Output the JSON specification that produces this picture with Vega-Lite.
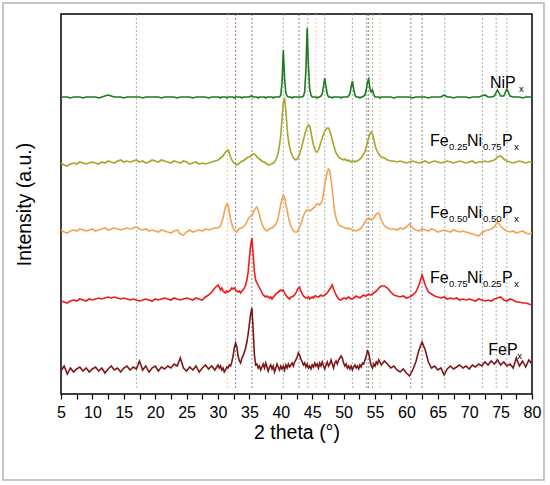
{
  "$schema": "https://vega.github.io/schema/vega-lite/v6.json",
  "width": 471,
  "height": 380,
  "autosize": "none",
  "padding": {"left": 61, "top": 14, "right": 18, "bottom": 91},
  "background": "white",
  "config": {
    "font": "Liberation Sans",
    "view": {"stroke": "#000", "strokeWidth": 1.5},
    "axis": {"labelFont": "Liberation Sans", "titleFont": "Liberation Sans"}
  },
  "resolve": {"axis": {"x": "independent"}},
  "datasets": {
    "frame": [{"t": -4.24, "t2": 81.91, "v": 391, "v2": -86}],
    "refs": [
      {"t": 17.0, "phase": "Ni"}, {"t": 31.5, "phase": "O"}, {"t": 32.8, "phase": "Fe"},
      {"t": 35.4, "phase": "Fe"}, {"t": 40.4, "phase": "Ni"}, {"t": 42.9, "phase": "Fe"},
      {"t": 44.3, "phase": "Ni"}, {"t": 45.6, "phase": "O"}, {"t": 47.0, "phase": "Ni"},
      {"t": 51.4, "phase": "Ni"}, {"t": 53.7, "phase": "Fe"}, {"t": 54.0, "phase": "Fe"},
      {"t": 54.6, "phase": "Ni"}, {"t": 55.8, "phase": "O"}, {"t": 60.7, "phase": "Fe"},
      {"t": 62.5, "phase": "Fe"}, {"t": 66.1, "phase": "Ni"}, {"t": 72.1, "phase": "Ni"},
      {"t": 74.3, "phase": "Ni"}, {"t": 76.0, "phase": "Ni"}
    ],
    "fe": [
      {"fe": "0.25", "ni": "0.75", "t": 63.76, "v": 248.3},
      {"fe": "0.50", "ni": "0.50", "t": 63.76, "v": 176.5},
      {"fe": "0.75", "ni": "0.25", "t": 63.76, "v": 111.5}
    ],
    "names": [
      {"name": "NiP", "t": 73.31, "v": 306},
      {"name": "FeP", "t": 73.04, "v": 39.5}
    ],
    "xrd": [
      {"t": 5, "NiP": 297, "Fe25": 231, "Fe50": 164, "Fe75": 93, "FeP": 23},
      {"t": 5.5, "NiP": 297, "Fe25": 229, "Fe50": 162, "Fe75": 92, "FeP": 28},
      {"t": 6, "NiP": 297, "Fe25": 228, "Fe50": 161, "Fe75": 91, "FeP": 20},
      {"t": 6.5, "NiP": 296, "Fe25": 230, "Fe50": 163, "Fe75": 93, "FeP": 26},
      {"t": 7, "NiP": 297, "Fe25": 231, "Fe50": 164, "Fe75": 94, "FeP": 22},
      {"t": 7.5, "NiP": 297, "Fe25": 230, "Fe50": 163, "Fe75": 93, "FeP": 25},
      {"t": 8, "NiP": 297, "Fe25": 232, "Fe50": 165, "Fe75": 95, "FeP": 27},
      {"t": 8.5, "NiP": 296, "Fe25": 231, "Fe50": 164, "Fe75": 94, "FeP": 23},
      {"t": 9, "NiP": 297, "Fe25": 230, "Fe50": 163, "Fe75": 93, "FeP": 26},
      {"t": 9.5, "NiP": 297, "Fe25": 231, "Fe50": 164, "Fe75": 95, "FeP": 22},
      {"t": 10, "NiP": 297, "Fe25": 232, "Fe50": 165, "Fe75": 94, "FeP": 25},
      {"t": 10.5, "NiP": 297, "Fe25": 231, "Fe50": 163, "Fe75": 95, "FeP": 27},
      {"t": 11, "NiP": 296, "Fe25": 230, "Fe50": 164, "Fe75": 96, "FeP": 23},
      {"t": 11.5, "NiP": 297, "Fe25": 232, "Fe50": 165, "Fe75": 95, "FeP": 26},
      {"t": 12, "NiP": 298, "Fe25": 231, "Fe50": 166, "Fe75": 96, "FeP": 21},
      {"t": 12.5, "NiP": 299, "Fe25": 233, "Fe50": 164, "Fe75": 97, "FeP": 25},
      {"t": 13, "NiP": 298, "Fe25": 232, "Fe50": 165, "Fe75": 96, "FeP": 28},
      {"t": 13.5, "NiP": 297, "Fe25": 231, "Fe50": 166, "Fe75": 97, "FeP": 24},
      {"t": 14, "NiP": 297, "Fe25": 233, "Fe50": 165, "Fe75": 96, "FeP": 26},
      {"t": 14.5, "NiP": 297, "Fe25": 234, "Fe50": 164, "Fe75": 95, "FeP": 22},
      {"t": 15, "NiP": 296, "Fe25": 232, "Fe50": 165, "Fe75": 96, "FeP": 26},
      {"t": 15.5, "NiP": 297, "Fe25": 233, "Fe50": 166, "Fe75": 95, "FeP": 28},
      {"t": 16, "NiP": 297, "Fe25": 232, "Fe50": 165, "Fe75": 94, "FeP": 24},
      {"t": 16.5, "NiP": 297, "Fe25": 233, "Fe50": 166, "Fe75": 95, "FeP": 27},
      {"t": 17, "NiP": 297, "Fe25": 234, "Fe50": 167, "Fe75": 94, "FeP": 25},
      {"t": 17.5, "NiP": 297, "Fe25": 232, "Fe50": 165, "Fe75": 93, "FeP": 33},
      {"t": 18, "NiP": 296, "Fe25": 233, "Fe50": 164, "Fe75": 94, "FeP": 24},
      {"t": 18.5, "NiP": 297, "Fe25": 231, "Fe50": 165, "Fe75": 95, "FeP": 28},
      {"t": 19, "NiP": 297, "Fe25": 232, "Fe50": 163, "Fe75": 94, "FeP": 22},
      {"t": 19.5, "NiP": 297, "Fe25": 234, "Fe50": 164, "Fe75": 93, "FeP": 26},
      {"t": 20, "NiP": 297, "Fe25": 233, "Fe50": 163, "Fe75": 95, "FeP": 28},
      {"t": 20.5, "NiP": 297, "Fe25": 232, "Fe50": 162, "Fe75": 94, "FeP": 23},
      {"t": 21, "NiP": 296, "Fe25": 234, "Fe50": 164, "Fe75": 95, "FeP": 27},
      {"t": 21.5, "NiP": 297, "Fe25": 233, "Fe50": 163, "Fe75": 96, "FeP": 25},
      {"t": 22, "NiP": 297, "Fe25": 232, "Fe50": 162, "Fe75": 95, "FeP": 28},
      {"t": 22.5, "NiP": 297, "Fe25": 231, "Fe50": 161, "Fe75": 94, "FeP": 26},
      {"t": 23, "NiP": 297, "Fe25": 233, "Fe50": 163, "Fe75": 96, "FeP": 30},
      {"t": 23.5, "NiP": 296, "Fe25": 232, "Fe50": 164, "Fe75": 95, "FeP": 28},
      {"t": 24, "NiP": 297, "Fe25": 231, "Fe50": 160, "Fe75": 94, "FeP": 36},
      {"t": 24.5, "NiP": 297, "Fe25": 233, "Fe50": 159, "Fe75": 95, "FeP": 26},
      {"t": 25, "NiP": 297, "Fe25": 232, "Fe50": 162, "Fe75": 96, "FeP": 23},
      {"t": 25.5, "NiP": 297, "Fe25": 230, "Fe50": 164, "Fe75": 95, "FeP": 27},
      {"t": 26, "NiP": 296, "Fe25": 231, "Fe50": 162, "Fe75": 94, "FeP": 24},
      {"t": 26.5, "NiP": 297, "Fe25": 232, "Fe50": 163, "Fe75": 96, "FeP": 28},
      {"t": 27, "NiP": 297, "Fe25": 230, "Fe50": 164, "Fe75": 95, "FeP": 22},
      {"t": 27.5, "NiP": 297, "Fe25": 231, "Fe50": 163, "Fe75": 94, "FeP": 26},
      {"t": 28, "NiP": 297, "Fe25": 230, "Fe50": 165, "Fe75": 97, "FeP": 29},
      {"t": 28.5, "NiP": 296, "Fe25": 231, "Fe50": 164, "Fe75": 99, "FeP": 25},
      {"t": 29, "NiP": 297, "Fe25": 232, "Fe50": 165, "Fe75": 102, "FeP": 28},
      {"t": 29.5, "NiP": 297, "Fe25": 233, "Fe50": 166, "Fe75": 106, "FeP": 24},
      {"t": 30.0, "NiP": 297, "Fe25": 234, "Fe50": 166, "Fe75": 109, "FeP": 29},
      {"t": 30.2, "NiP": 297, "Fe25": 235, "Fe50": 167, "Fe75": 107, "FeP": 26},
      {"t": 30.4, "NiP": 296, "Fe25": 236, "Fe50": 168, "Fe75": 104, "FeP": 28},
      {"t": 30.6, "NiP": 297, "Fe25": 237, "Fe50": 172, "Fe75": 106, "FeP": 24},
      {"t": 30.8, "NiP": 297, "Fe25": 238, "Fe50": 176, "Fe75": 103, "FeP": 26},
      {"t": 31.0, "NiP": 297, "Fe25": 240, "Fe50": 182, "Fe75": 102, "FeP": 22},
      {"t": 31.2, "NiP": 297, "Fe25": 242, "Fe50": 187, "Fe75": 101, "FeP": 24},
      {"t": 31.4, "NiP": 296, "Fe25": 243, "Fe50": 190, "Fe75": 103, "FeP": 27},
      {"t": 31.6, "NiP": 297, "Fe25": 244, "Fe50": 189, "Fe75": 102, "FeP": 26},
      {"t": 31.8, "NiP": 297, "Fe25": 241, "Fe50": 182, "Fe75": 103, "FeP": 29},
      {"t": 32.0, "NiP": 297, "Fe25": 237, "Fe50": 175, "Fe75": 104, "FeP": 28},
      {"t": 32.2, "NiP": 297, "Fe25": 234, "Fe50": 170, "Fe75": 106, "FeP": 32},
      {"t": 32.4, "NiP": 297, "Fe25": 232, "Fe50": 166, "Fe75": 105, "FeP": 38},
      {"t": 32.6, "NiP": 296, "Fe25": 231, "Fe50": 164, "Fe75": 106, "FeP": 46},
      {"t": 32.8, "NiP": 297, "Fe25": 230, "Fe50": 163, "Fe75": 104, "FeP": 51},
      {"t": 33.0, "NiP": 297, "Fe25": 229, "Fe50": 162, "Fe75": 103, "FeP": 47},
      {"t": 33.2, "NiP": 297, "Fe25": 230, "Fe50": 164, "Fe75": 102, "FeP": 38},
      {"t": 33.4, "NiP": 297, "Fe25": 231, "Fe50": 165, "Fe75": 103, "FeP": 33},
      {"t": 33.6, "NiP": 297, "Fe25": 232, "Fe50": 166, "Fe75": 101, "FeP": 31},
      {"t": 33.8, "NiP": 296, "Fe25": 233, "Fe50": 166, "Fe75": 103, "FeP": 36},
      {"t": 34.0, "NiP": 297, "Fe25": 233, "Fe50": 167, "Fe75": 104, "FeP": 38},
      {"t": 34.2, "NiP": 297, "Fe25": 234, "Fe50": 168, "Fe75": 106, "FeP": 42},
      {"t": 34.4, "NiP": 297, "Fe25": 235, "Fe50": 170, "Fe75": 109, "FeP": 46},
      {"t": 34.6, "NiP": 297, "Fe25": 236, "Fe50": 172, "Fe75": 114, "FeP": 52},
      {"t": 34.8, "NiP": 297, "Fe25": 237, "Fe50": 175, "Fe75": 122, "FeP": 60},
      {"t": 35.0, "NiP": 297, "Fe25": 237, "Fe50": 177, "Fe75": 136, "FeP": 70},
      {"t": 35.2, "NiP": 298, "Fe25": 238, "Fe50": 178, "Fe75": 149, "FeP": 80},
      {"t": 35.4, "NiP": 298, "Fe25": 239, "Fe50": 178, "Fe75": 156, "FeP": 86},
      {"t": 35.6, "NiP": 297, "Fe25": 240, "Fe50": 181, "Fe75": 139, "FeP": 64},
      {"t": 35.8, "NiP": 297, "Fe25": 240, "Fe50": 184, "Fe75": 122, "FeP": 39},
      {"t": 36.0, "NiP": 297, "Fe25": 239, "Fe50": 186, "Fe75": 114, "FeP": 29},
      {"t": 36.2, "NiP": 297, "Fe25": 237, "Fe50": 187, "Fe75": 111, "FeP": 30},
      {"t": 36.4, "NiP": 296, "Fe25": 236, "Fe50": 184, "Fe75": 109, "FeP": 26},
      {"t": 36.6, "NiP": 297, "Fe25": 235, "Fe50": 179, "Fe75": 106, "FeP": 28},
      {"t": 36.8, "NiP": 297, "Fe25": 234, "Fe50": 174, "Fe75": 104, "FeP": 24},
      {"t": 37.0, "NiP": 297, "Fe25": 233, "Fe50": 170, "Fe75": 101, "FeP": 27},
      {"t": 37.2, "NiP": 297, "Fe25": 232, "Fe50": 167, "Fe75": 99, "FeP": 30},
      {"t": 37.4, "NiP": 297, "Fe25": 232, "Fe50": 165, "Fe75": 98, "FeP": 26},
      {"t": 37.6, "NiP": 296, "Fe25": 231, "Fe50": 164, "Fe75": 97, "FeP": 31},
      {"t": 37.8, "NiP": 297, "Fe25": 230, "Fe50": 163, "Fe75": 98, "FeP": 27},
      {"t": 38.0, "NiP": 297, "Fe25": 229, "Fe50": 164, "Fe75": 97, "FeP": 23},
      {"t": 38.2, "NiP": 297, "Fe25": 229, "Fe50": 165, "Fe75": 96, "FeP": 27},
      {"t": 38.4, "NiP": 297, "Fe25": 230, "Fe50": 166, "Fe75": 97, "FeP": 29},
      {"t": 38.6, "NiP": 297, "Fe25": 230, "Fe50": 166, "Fe75": 95, "FeP": 25},
      {"t": 38.8, "NiP": 296, "Fe25": 231, "Fe50": 167, "Fe75": 97, "FeP": 28},
      {"t": 39.0, "NiP": 297, "Fe25": 232, "Fe50": 168, "Fe75": 98, "FeP": 22},
      {"t": 39.2, "NiP": 297, "Fe25": 234, "Fe50": 170, "Fe75": 100, "FeP": 26},
      {"t": 39.4, "NiP": 297, "Fe25": 237, "Fe50": 172, "Fe75": 101, "FeP": 30},
      {"t": 39.6, "NiP": 297, "Fe25": 242, "Fe50": 177, "Fe75": 102, "FeP": 27},
      {"t": 39.8, "NiP": 297, "Fe25": 249, "Fe50": 183, "Fe75": 103, "FeP": 24},
      {"t": 40.0, "NiP": 299, "Fe25": 259, "Fe50": 190, "Fe75": 104, "FeP": 28},
      {"t": 40.2, "NiP": 312, "Fe25": 276, "Fe50": 195, "Fe75": 103, "FeP": 25},
      {"t": 40.4, "NiP": 344, "Fe25": 292, "Fe50": 199, "Fe75": 104, "FeP": 28},
      {"t": 40.6, "NiP": 316, "Fe25": 295, "Fe50": 197, "Fe75": 101, "FeP": 24},
      {"t": 40.8, "NiP": 301, "Fe25": 284, "Fe50": 190, "Fe75": 99, "FeP": 29},
      {"t": 41.0, "NiP": 298, "Fe25": 266, "Fe50": 184, "Fe75": 97, "FeP": 26},
      {"t": 41.2, "NiP": 297, "Fe25": 254, "Fe50": 177, "Fe75": 96, "FeP": 30},
      {"t": 41.4, "NiP": 297, "Fe25": 247, "Fe50": 172, "Fe75": 95, "FeP": 27},
      {"t": 41.6, "NiP": 297, "Fe25": 242, "Fe50": 168, "Fe75": 97, "FeP": 29},
      {"t": 41.8, "NiP": 296, "Fe25": 239, "Fe50": 165, "Fe75": 97, "FeP": 31},
      {"t": 42.0, "NiP": 297, "Fe25": 236, "Fe50": 163, "Fe75": 98, "FeP": 28},
      {"t": 42.2, "NiP": 297, "Fe25": 235, "Fe50": 162, "Fe75": 99, "FeP": 32},
      {"t": 42.4, "NiP": 297, "Fe25": 234, "Fe50": 162, "Fe75": 101, "FeP": 34},
      {"t": 42.6, "NiP": 297, "Fe25": 235, "Fe50": 162, "Fe75": 104, "FeP": 37},
      {"t": 42.8, "NiP": 297, "Fe25": 237, "Fe50": 164, "Fe75": 106, "FeP": 41},
      {"t": 43.0, "NiP": 297, "Fe25": 240, "Fe50": 167, "Fe75": 107, "FeP": 39},
      {"t": 43.2, "NiP": 297, "Fe25": 244, "Fe50": 170, "Fe75": 103, "FeP": 35},
      {"t": 43.4, "NiP": 297, "Fe25": 249, "Fe50": 174, "Fe75": 100, "FeP": 32},
      {"t": 43.6, "NiP": 298, "Fe25": 254, "Fe50": 178, "Fe75": 98, "FeP": 29},
      {"t": 43.8, "NiP": 302, "Fe25": 259, "Fe50": 181, "Fe75": 97, "FeP": 31},
      {"t": 44.0, "NiP": 324, "Fe25": 264, "Fe50": 183, "Fe75": 96, "FeP": 27},
      {"t": 44.2, "NiP": 366, "Fe25": 267, "Fe50": 184, "Fe75": 96, "FeP": 30},
      {"t": 44.4, "NiP": 328, "Fe25": 269, "Fe50": 184, "Fe75": 97, "FeP": 26},
      {"t": 44.6, "NiP": 305, "Fe25": 268, "Fe50": 183, "Fe75": 95, "FeP": 28},
      {"t": 44.8, "NiP": 299, "Fe25": 262, "Fe50": 184, "Fe75": 96, "FeP": 25},
      {"t": 45.0, "NiP": 297, "Fe25": 255, "Fe50": 185, "Fe75": 97, "FeP": 29},
      {"t": 45.2, "NiP": 297, "Fe25": 249, "Fe50": 186, "Fe75": 96, "FeP": 27},
      {"t": 45.4, "NiP": 297, "Fe25": 245, "Fe50": 187, "Fe75": 98, "FeP": 31},
      {"t": 45.6, "NiP": 297, "Fe25": 242, "Fe50": 189, "Fe75": 98, "FeP": 28},
      {"t": 45.8, "NiP": 296, "Fe25": 242, "Fe50": 190, "Fe75": 97, "FeP": 30},
      {"t": 46.0, "NiP": 297, "Fe25": 244, "Fe50": 190, "Fe75": 97, "FeP": 26},
      {"t": 46.2, "NiP": 297, "Fe25": 248, "Fe50": 189, "Fe75": 98, "FeP": 31},
      {"t": 46.4, "NiP": 298, "Fe25": 252, "Fe50": 191, "Fe75": 99, "FeP": 28},
      {"t": 46.6, "NiP": 300, "Fe25": 256, "Fe50": 194, "Fe75": 98, "FeP": 32},
      {"t": 46.8, "NiP": 308, "Fe25": 260, "Fe50": 200, "Fe75": 98, "FeP": 28},
      {"t": 47.0, "NiP": 316, "Fe25": 263, "Fe50": 209, "Fe75": 99, "FeP": 25},
      {"t": 47.2, "NiP": 307, "Fe25": 265, "Fe50": 216, "Fe75": 100, "FeP": 29},
      {"t": 47.4, "NiP": 300, "Fe25": 266, "Fe50": 222, "Fe75": 101, "FeP": 32},
      {"t": 47.6, "NiP": 297, "Fe25": 266, "Fe50": 225, "Fe75": 103, "FeP": 28},
      {"t": 47.8, "NiP": 297, "Fe25": 263, "Fe50": 223, "Fe75": 105, "FeP": 30},
      {"t": 48.0, "NiP": 297, "Fe25": 259, "Fe50": 214, "Fe75": 107, "FeP": 34},
      {"t": 48.2, "NiP": 296, "Fe25": 254, "Fe50": 204, "Fe75": 109, "FeP": 30},
      {"t": 48.4, "NiP": 297, "Fe25": 249, "Fe50": 192, "Fe75": 105, "FeP": 26},
      {"t": 48.6, "NiP": 297, "Fe25": 245, "Fe50": 182, "Fe75": 102, "FeP": 31},
      {"t": 48.8, "NiP": 297, "Fe25": 241, "Fe50": 176, "Fe75": 99, "FeP": 33},
      {"t": 49.0, "NiP": 297, "Fe25": 239, "Fe50": 172, "Fe75": 97, "FeP": 30},
      {"t": 49.2, "NiP": 297, "Fe25": 237, "Fe50": 170, "Fe75": 95, "FeP": 34},
      {"t": 49.4, "NiP": 297, "Fe25": 236, "Fe50": 168, "Fe75": 94, "FeP": 36},
      {"t": 49.6, "NiP": 296, "Fe25": 235, "Fe50": 168, "Fe75": 94, "FeP": 38},
      {"t": 49.8, "NiP": 297, "Fe25": 235, "Fe50": 167, "Fe75": 95, "FeP": 36},
      {"t": 50.0, "NiP": 297, "Fe25": 234, "Fe50": 167, "Fe75": 96, "FeP": 31},
      {"t": 50.2, "NiP": 297, "Fe25": 235, "Fe50": 166, "Fe75": 96, "FeP": 28},
      {"t": 50.4, "NiP": 297, "Fe25": 234, "Fe50": 166, "Fe75": 95, "FeP": 30},
      {"t": 50.6, "NiP": 297, "Fe25": 233, "Fe50": 165, "Fe75": 96, "FeP": 26},
      {"t": 50.8, "NiP": 298, "Fe25": 234, "Fe50": 166, "Fe75": 97, "FeP": 28},
      {"t": 51.0, "NiP": 300, "Fe25": 233, "Fe50": 165, "Fe75": 96, "FeP": 25},
      {"t": 51.2, "NiP": 307, "Fe25": 232, "Fe50": 165, "Fe75": 95, "FeP": 28},
      {"t": 51.4, "NiP": 313, "Fe25": 233, "Fe50": 164, "Fe75": 95, "FeP": 24},
      {"t": 51.6, "NiP": 305, "Fe25": 233, "Fe50": 164, "Fe75": 96, "FeP": 27},
      {"t": 51.8, "NiP": 299, "Fe25": 232, "Fe50": 163, "Fe75": 97, "FeP": 29},
      {"t": 52.0, "NiP": 297, "Fe25": 233, "Fe50": 163, "Fe75": 98, "FeP": 26},
      {"t": 52.2, "NiP": 297, "Fe25": 233, "Fe50": 164, "Fe75": 97, "FeP": 28},
      {"t": 52.4, "NiP": 297, "Fe25": 234, "Fe50": 164, "Fe75": 97, "FeP": 25},
      {"t": 52.6, "NiP": 296, "Fe25": 235, "Fe50": 165, "Fe75": 96, "FeP": 29},
      {"t": 52.8, "NiP": 297, "Fe25": 236, "Fe50": 166, "Fe75": 97, "FeP": 27},
      {"t": 53.0, "NiP": 297, "Fe25": 238, "Fe50": 168, "Fe75": 98, "FeP": 31},
      {"t": 53.2, "NiP": 298, "Fe25": 240, "Fe50": 170, "Fe75": 99, "FeP": 30},
      {"t": 53.4, "NiP": 299, "Fe25": 242, "Fe50": 172, "Fe75": 98, "FeP": 34},
      {"t": 53.6, "NiP": 304, "Fe25": 247, "Fe50": 174, "Fe75": 98, "FeP": 38},
      {"t": 53.8, "NiP": 312, "Fe25": 252, "Fe50": 175, "Fe75": 99, "FeP": 43},
      {"t": 54.0, "NiP": 315, "Fe25": 256, "Fe50": 176, "Fe75": 100, "FeP": 41},
      {"t": 54.2, "NiP": 305, "Fe25": 260, "Fe50": 175, "Fe75": 99, "FeP": 34},
      {"t": 54.4, "NiP": 302, "Fe25": 262, "Fe50": 174, "Fe75": 99, "FeP": 28},
      {"t": 54.6, "NiP": 304, "Fe25": 260, "Fe50": 175, "Fe75": 100, "FeP": 26},
      {"t": 54.8, "NiP": 300, "Fe25": 255, "Fe50": 176, "Fe75": 101, "FeP": 30},
      {"t": 55.0, "NiP": 297, "Fe25": 249, "Fe50": 178, "Fe75": 102, "FeP": 28},
      {"t": 55.2, "NiP": 297, "Fe25": 245, "Fe50": 180, "Fe75": 103, "FeP": 32},
      {"t": 55.4, "NiP": 297, "Fe25": 242, "Fe50": 181, "Fe75": 104, "FeP": 30},
      {"t": 55.6, "NiP": 297, "Fe25": 240, "Fe50": 181, "Fe75": 106, "FeP": 34},
      {"t": 55.8, "NiP": 296, "Fe25": 238, "Fe50": 178, "Fe75": 107, "FeP": 32},
      {"t": 56.0, "NiP": 297, "Fe25": 237, "Fe50": 174, "Fe75": 108, "FeP": 29},
      {"t": 56.5, "NiP": 297, "Fe25": 236, "Fe50": 168, "Fe75": 108, "FeP": 33},
      {"t": 57, "NiP": 297, "Fe25": 234, "Fe50": 166, "Fe75": 106, "FeP": 30},
      {"t": 57.5, "NiP": 297, "Fe25": 233, "Fe50": 165, "Fe75": 102, "FeP": 26},
      {"t": 58, "NiP": 296, "Fe25": 233, "Fe50": 165, "Fe75": 99, "FeP": 28},
      {"t": 58.5, "NiP": 297, "Fe25": 232, "Fe50": 164, "Fe75": 98, "FeP": 24},
      {"t": 59, "NiP": 297, "Fe25": 233, "Fe50": 166, "Fe75": 97, "FeP": 22},
      {"t": 59.5, "NiP": 297, "Fe25": 232, "Fe50": 165, "Fe75": 98, "FeP": 25},
      {"t": 60, "NiP": 297, "Fe25": 231, "Fe50": 167, "Fe75": 96, "FeP": 21},
      {"t": 60.5, "NiP": 297, "Fe25": 232, "Fe50": 170, "Fe75": 97, "FeP": 18},
      {"t": 61, "NiP": 296, "Fe25": 233, "Fe50": 166, "Fe75": 99, "FeP": 24},
      {"t": 61.5, "NiP": 297, "Fe25": 232, "Fe50": 164, "Fe75": 102, "FeP": 32},
      {"t": 62, "NiP": 297, "Fe25": 231, "Fe50": 163, "Fe75": 109, "FeP": 44},
      {"t": 62.5, "NiP": 297, "Fe25": 232, "Fe50": 165, "Fe75": 119, "FeP": 52},
      {"t": 63, "NiP": 297, "Fe25": 233, "Fe50": 164, "Fe75": 109, "FeP": 44},
      {"t": 63.5, "NiP": 296, "Fe25": 231, "Fe50": 163, "Fe75": 102, "FeP": 32},
      {"t": 64, "NiP": 297, "Fe25": 232, "Fe50": 165, "Fe75": 100, "FeP": 26},
      {"t": 64.5, "NiP": 297, "Fe25": 233, "Fe50": 164, "Fe75": 98, "FeP": 28},
      {"t": 65, "NiP": 297, "Fe25": 232, "Fe50": 162, "Fe75": 97, "FeP": 24},
      {"t": 65.5, "NiP": 297, "Fe25": 231, "Fe50": 163, "Fe75": 96, "FeP": 26},
      {"t": 66, "NiP": 299, "Fe25": 232, "Fe50": 164, "Fe75": 97, "FeP": 19},
      {"t": 66.5, "NiP": 297, "Fe25": 233, "Fe50": 163, "Fe75": 95, "FeP": 25},
      {"t": 67, "NiP": 297, "Fe25": 232, "Fe50": 162, "Fe75": 96, "FeP": 28},
      {"t": 67.5, "NiP": 296, "Fe25": 231, "Fe50": 164, "Fe75": 95, "FeP": 25},
      {"t": 68, "NiP": 297, "Fe25": 232, "Fe50": 163, "Fe75": 96, "FeP": 27},
      {"t": 68.5, "NiP": 297, "Fe25": 233, "Fe50": 162, "Fe75": 94, "FeP": 29},
      {"t": 69, "NiP": 297, "Fe25": 232, "Fe50": 163, "Fe75": 95, "FeP": 26},
      {"t": 69.5, "NiP": 297, "Fe25": 231, "Fe50": 162, "Fe75": 94, "FeP": 28},
      {"t": 70, "NiP": 296, "Fe25": 232, "Fe50": 161, "Fe75": 95, "FeP": 25},
      {"t": 70.5, "NiP": 297, "Fe25": 233, "Fe50": 160, "Fe75": 94, "FeP": 29},
      {"t": 71, "NiP": 297, "Fe25": 231, "Fe50": 159, "Fe75": 93, "FeP": 27},
      {"t": 71.5, "NiP": 297, "Fe25": 232, "Fe50": 158, "Fe75": 95, "FeP": 30},
      {"t": 72, "NiP": 298, "Fe25": 232, "Fe50": 161, "Fe75": 94, "FeP": 28},
      {"t": 72.5, "NiP": 299, "Fe25": 233, "Fe50": 163, "Fe75": 93, "FeP": 32},
      {"t": 73, "NiP": 297, "Fe25": 232, "Fe50": 164, "Fe75": 94, "FeP": 29},
      {"t": 73.5, "NiP": 297, "Fe25": 233, "Fe50": 165, "Fe75": 93, "FeP": 33},
      {"t": 74, "NiP": 298, "Fe25": 234, "Fe50": 167, "Fe75": 95, "FeP": 30},
      {"t": 74.5, "NiP": 304, "Fe25": 237, "Fe50": 172, "Fe75": 96, "FeP": 34},
      {"t": 75, "NiP": 298, "Fe25": 238, "Fe50": 168, "Fe75": 97, "FeP": 29},
      {"t": 75.5, "NiP": 298, "Fe25": 235, "Fe50": 165, "Fe75": 94, "FeP": 32},
      {"t": 76, "NiP": 305, "Fe25": 233, "Fe50": 163, "Fe75": 93, "FeP": 28},
      {"t": 76.5, "NiP": 298, "Fe25": 232, "Fe50": 162, "Fe75": 95, "FeP": 30},
      {"t": 77, "NiP": 297, "Fe25": 231, "Fe50": 163, "Fe75": 94, "FeP": 26},
      {"t": 77.5, "NiP": 297, "Fe25": 232, "Fe50": 161, "Fe75": 92, "FeP": 36},
      {"t": 78, "NiP": 297, "Fe25": 233, "Fe50": 162, "Fe75": 92, "FeP": 28},
      {"t": 78.5, "NiP": 296, "Fe25": 232, "Fe50": 163, "Fe75": 91, "FeP": 33},
      {"t": 79, "NiP": 297, "Fe25": 231, "Fe50": 161, "Fe75": 91, "FeP": 27},
      {"t": 79.5, "NiP": 297, "Fe25": 232, "Fe50": 160, "Fe75": 90, "FeP": 34},
      {"t": 80, "NiP": 297, "Fe25": 232, "Fe50": 161, "Fe75": 89, "FeP": 30}
    ]
  },
  "layer": [
    {
      "data": {"name": "frame"},
      "mark": {"type": "rect", "fillOpacity": 0, "stroke": "#b3b3b3", "strokeWidth": 1.5, "clip": false},
      "encoding": {
        "x": {"field": "t", "type": "quantitative", "axis": null},
        "x2": {"field": "t2"},
        "y": {"field": "v", "type": "quantitative", "title": "Intensity (a.u.)"},
        "y2": {"field": "v2"}
      }
    },
    {
      "data": {"name": "refs"},
      "mark": {"type": "rule", "strokeDash": [2, 2], "strokeWidth": 0.8},
      "encoding": {
        "x": {
          "field": "t", "type": "quantitative", "title": null,
          "axis": {
            "orient": "bottom",
            "values": [7.5, 12.5, 17.5, 22.5, 27.5, 32.5, 37.5, 42.5, 47.5, 52.5, 57.5, 62.5, 67.5, 72.5, 77.5],
            "labels": false, "domain": false, "grid": false,
            "tickColor": "#000", "tickSize": 5, "tickWidth": 1.2
          }
        },
        "y": {"datum": 380},
        "y2": {"datum": 6},
        "stroke": {
          "field": "phase", "type": "nominal",
          "scale": {"domain": ["Ni", "Fe", "O"], "range": ["#86a386", "#756262", "#f0b985"]},
          "legend": null
        }
      }
    },
    {
      "data": {"name": "xrd"},
      "transform": [{"fold": ["NiP", "Fe25", "Fe50", "Fe75", "FeP"], "as": ["series", "v"]}],
      "mark": {"type": "line", "strokeWidth": 1.6},
      "encoding": {
        "x": {
          "field": "t", "type": "quantitative", "title": "2 theta (°)",
          "scale": {"domain": [5, 80], "nice": false, "zero": false},
          "axis": {
            "orient": "bottom",
            "values": [5, 10, 15, 20, 25, 30, 35, 40, 45, 50, 55, 60, 65, 70, 75, 80],
            "format": "d",
            "labelFontSize": 16, "labelColor": "#000", "labelPadding": 5,
            "labelFlush": false, "labelOverlap": false,
            "tickColor": "#000", "tickSize": 5, "tickWidth": 1.2,
            "domain": false, "grid": false,
            "titleFontSize": 19.5, "titleFontWeight": "normal", "titleColor": "#000", "titlePadding": 3
          }
        },
        "y": {
          "field": "v", "type": "quantitative", "title": "Intensity (a.u.)",
          "scale": {"domain": [0, 380], "nice": false, "zero": false},
          "axis": {
            "labels": false, "ticks": false, "domain": false, "grid": false,
            "titleFontSize": 19.5, "titleFontWeight": "normal", "titleColor": "#000", "titlePadding": 27
          }
        },
        "color": {
          "field": "series", "type": "nominal",
          "scale": {"domain": ["NiP", "Fe25", "Fe50", "Fe75", "FeP"], "range": ["#1e7a1e", "#a8a52a", "#f4a354", "#ef1c1c", "#7d1818"]},
          "legend": null
        }
      }
    },
    {
      "data": {"name": "fe"},
      "mark": {"type": "text", "align": "left", "baseline": "alphabetic", "fontSize": 16, "color": "#000"},
      "encoding": {
        "x": {"field": "t", "type": "quantitative", "axis": null},
        "y": {"field": "v", "type": "quantitative", "title": "Intensity (a.u.)"},
        "text": {"value": "Fe"}
      }
    },
    {
      "data": {"name": "fe"},
      "mark": {"type": "text", "align": "left", "baseline": "alphabetic", "fontSize": 9.5, "dx": 19, "dy": 4.3, "color": "#000"},
      "encoding": {
        "x": {"field": "t", "type": "quantitative", "axis": null},
        "y": {"field": "v", "type": "quantitative", "title": "Intensity (a.u.)"},
        "text": {"field": "fe"}
      }
    },
    {
      "data": {"name": "fe"},
      "mark": {"type": "text", "align": "left", "baseline": "alphabetic", "fontSize": 16, "dx": 37, "color": "#000"},
      "encoding": {
        "x": {"field": "t", "type": "quantitative", "axis": null},
        "y": {"field": "v", "type": "quantitative", "title": "Intensity (a.u.)"},
        "text": {"value": "Ni"}
      }
    },
    {
      "data": {"name": "fe"},
      "mark": {"type": "text", "align": "left", "baseline": "alphabetic", "fontSize": 9.5, "dx": 53, "dy": 4.3, "color": "#000"},
      "encoding": {
        "x": {"field": "t", "type": "quantitative", "axis": null},
        "y": {"field": "v", "type": "quantitative", "title": "Intensity (a.u.)"},
        "text": {"field": "ni"}
      }
    },
    {
      "data": {"name": "fe"},
      "mark": {"type": "text", "align": "left", "baseline": "alphabetic", "fontSize": 16, "dx": 72, "color": "#000"},
      "encoding": {
        "x": {"field": "t", "type": "quantitative", "axis": null},
        "y": {"field": "v", "type": "quantitative", "title": "Intensity (a.u.)"},
        "text": {"value": "P"}
      }
    },
    {
      "data": {"name": "fe"},
      "mark": {"type": "text", "align": "left", "baseline": "alphabetic", "fontSize": 9.5, "dx": 84, "dy": 4.3, "color": "#000"},
      "encoding": {
        "x": {"field": "t", "type": "quantitative", "axis": null},
        "y": {"field": "v", "type": "quantitative", "title": "Intensity (a.u.)"},
        "text": {"value": "x"}
      }
    },
    {
      "data": {"name": "names"},
      "mark": {"type": "text", "align": "left", "baseline": "alphabetic", "fontSize": 16, "color": "#000"},
      "encoding": {
        "x": {"field": "t", "type": "quantitative", "axis": null},
        "y": {"field": "v", "type": "quantitative", "title": "Intensity (a.u.)"},
        "text": {"field": "name"}
      }
    },
    {
      "data": {"name": "names"},
      "mark": {"type": "text", "align": "left", "baseline": "alphabetic", "fontSize": 9.5, "dx": 29, "dy": 4.3, "color": "#000"},
      "encoding": {
        "x": {"field": "t", "type": "quantitative", "axis": null},
        "y": {"field": "v", "type": "quantitative", "title": "Intensity (a.u.)"},
        "text": {"value": "x"}
      }
    }
  ]
}
